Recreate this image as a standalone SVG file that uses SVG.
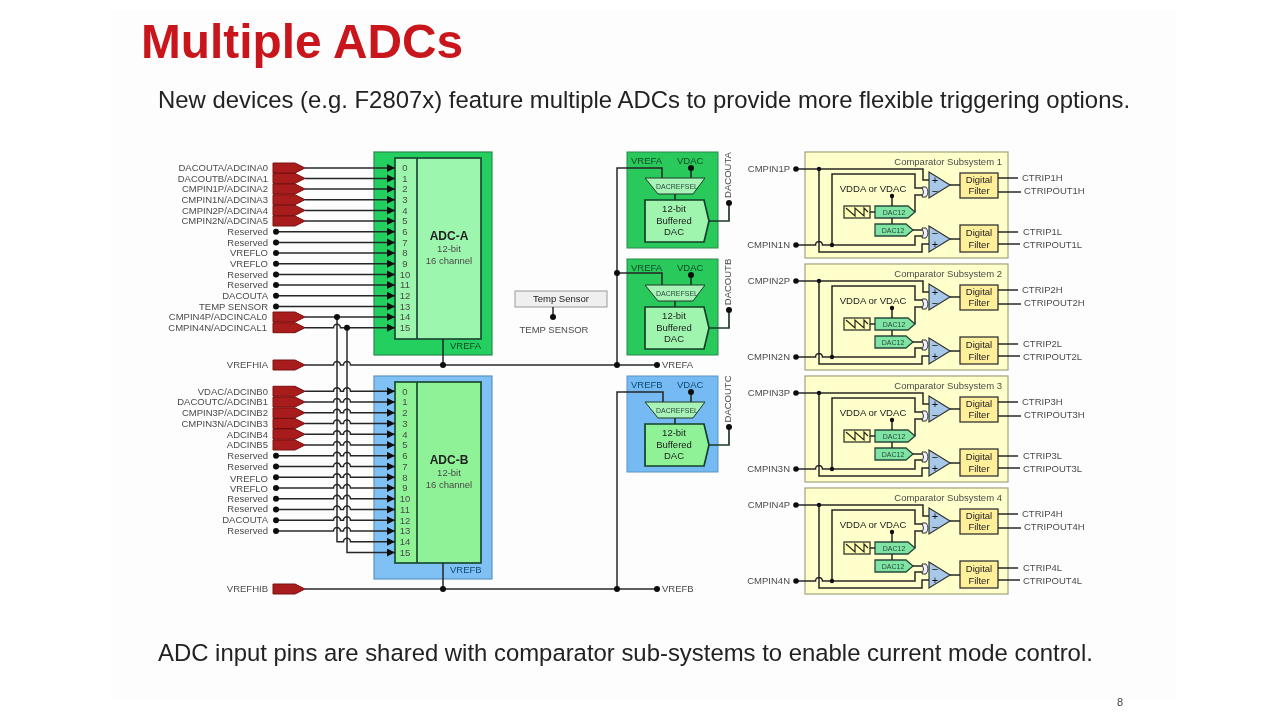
<svg xmlns="http://www.w3.org/2000/svg" xmlns:xlink="http://www.w3.org/1999/xlink" width="1280" height="720" viewBox="0 0 1280 720">
<defs>
<style>
text{font-family:"Liberation Sans",Arial,sans-serif;fill:#4a4a4a;font-size:9.5px}
.r{text-anchor:end}.m{text-anchor:middle}
.k{fill:#222}
.w{fill:none;stroke:#262626;stroke-width:1.5}
.w2{fill:none;stroke:#1d3a2a;stroke-width:1.7}
.d{fill:#111}
.pin{fill:#a81c1c;stroke:#7a1010;stroke-width:1}
.in{stroke:#1b4a33;stroke-width:1.7}
.dacb{stroke:#12402a;stroke-width:1.7}
.cb{fill:#ffffcc;stroke:#a3a37c;stroke-width:1.2}
.df{fill:#ffee9a;stroke:#333;stroke-width:1.3}
.amp{fill:#a8c8e8;stroke:#333;stroke-width:1.2}
.dac12{fill:#7fe3a4;stroke:#2a4a3a;stroke-width:1.3}
.head{font-size:23.9px;fill:#222}
.s{font-size:11px;fill:#111;text-anchor:middle}
.lg{fill:#0d4a28}.lb{fill:#0f4a70}
.sm{font-size:7px;text-anchor:middle;fill:#2a4a3a}
.vd{font-size:9.6px;fill:#222;text-anchor:middle}
</style>
<marker id="arr" markerUnits="userSpaceOnUse" markerWidth="9" markerHeight="9" refX="8" refY="4" orient="auto"><path d="M0 0L8 4L0 8Z" fill="#111"/></marker>
<filter id="soft" filterUnits="userSpaceOnUse" x="0" y="0" width="1280" height="720"><feGaussianBlur stdDeviation="0.4"/></filter>
<path id="p" class="pin" d="M273 -5H295L305 0L295 5H273Z"/>
<g id="dacblk">
<path d="M645 178H705L693 194H658Z" fill="#a9f2b8" stroke="#1d3a2a" stroke-width="1"/>
<path d="M645 200H704L709 221L704 242H645Z" class="dacb"/>
</g>
<g id="dacw">
<path class="w2" d="M691 168V178M675 194V200M709 221H729V203"/>
<circle class="d" cx="691" cy="168" r="3"/><circle class="d" cx="729" cy="203" r="3"/>
</g>
<g id="cmpbody">
<rect class="cb" x="805" y="152" width="203" height="106"/>
<path class="amp" d="M929 172L950 185L929 198Z"/>
<path class="amp" d="M929 226L950 239L929 252Z"/>
<path fill="#eef" stroke="#333" d="M922 187H926Q930 192 926 197H922Q925 192 922 187Z"/>
<path fill="#eef" stroke="#333" d="M922 228H926Q930 233 926 238H922Q925 233 922 228Z"/>
<rect class="df" x="960" y="173" width="38" height="25"/>
<rect class="df" x="960" y="225" width="38" height="27"/>
<rect x="844" y="206" width="26" height="12" fill="#ffffb0" stroke="#333" stroke-width="1.3"/>
<path d="M846 208L855 216V208L864 216V208L868 212" fill="none" stroke="#222" stroke-width="1.2"/>
<path class="dac12" d="M875 206H908L915 212L908 218H875Z"/>
<path class="dac12" d="M875 224H906L913 230L906 236H875Z"/>
</g>
<g id="cmpw">
<path class="w" d="M796 169H923V180H929M819 169V252H922V244H929M796 245H815.500a3.500 3.500 0 0 1 7 0H915V236H922M832 245V174H915V188H922M915 212V195H922M913 230H922M892 196V206M892 218V224M870 212H875M950 185H960M950 239H960M998 178H1018M998 192H1021M998 232H1018M998 244H1020"/>
<circle class="d" cx="796" cy="169" r="2.800"/><circle class="d" cx="796" cy="245" r="2.800"/><circle class="d" cx="819" cy="169" r="2.200"/><circle class="d" cx="832" cy="245" r="2.200"/><circle class="d" cx="892" cy="196" r="2.200"/>
</g>
</defs>
<rect width="1280" height="720" fill="#ffffff"/>
<rect x="110" y="10" width="1066" height="690" fill="#fdfdfd"/>
<g id="slide-text" filter="url(#soft)">
<text id="title" x="141" y="58" style="font-size:47.8px;font-weight:bold;fill:#c8181c">Multiple ADCs</text>
<text class="head" x="158" y="108">New devices (e.g. F2807x) feature multiple ADCs to provide more flexible triggering options.</text>
<text class="head" x="158" y="661">ADC input pins are shared with comparator sub-systems to enable current mode control.</text>
<text x="1120" y="706" class="m" style="font-size:11px;fill:#444">8</text>
</g>
<g id="diagram" filter="url(#soft)">
<g id="adc-a">
<rect x="374" y="152" width="118" height="203" fill="#22cf5f" stroke="#2a8a4c" stroke-width="1.2"/>
<rect class="in" x="395" y="158" width="86" height="181" fill="#9cf6ad"/>
<path class="in" d="M417 158V339"/>
<text class="m k" x="449" y="240" style="font-size:12px;font-weight:bold">ADC-A</text>
<text class="m" x="449" y="252">12-bit</text>
<text class="m" x="449" y="264">16 channel</text>
<text class="lg" x="450" y="349">VREFA</text>
<text class="m" x="405" y="171">0</text><text class="m" x="405" y="182">1</text><text class="m" x="405" y="192">2</text><text class="m" x="405" y="203">3</text><text class="m" x="405" y="214">4</text><text class="m" x="405" y="224">5</text><text class="m" x="405" y="235">6</text><text class="m" x="405" y="246">7</text><text class="m" x="405" y="256">8</text><text class="m" x="405" y="267">9</text><text class="m" x="405" y="278">10</text><text class="m" x="405" y="288">11</text><text class="m" x="405" y="299">12</text><text class="m" x="405" y="310">13</text><text class="m" x="405" y="320">14</text><text class="m" x="405" y="331">15</text>
</g>
<g id="adc-b">
<rect x="374" y="376" width="118" height="203" fill="#7fc0f5" stroke="#5d94c0" stroke-width="1.2"/>
<rect class="in" x="395" y="382" width="86" height="181" fill="#8ff296"/>
<path class="in" d="M417 382V563"/>
<text class="m k" x="449" y="464" style="font-size:12px;font-weight:bold">ADC-B</text>
<text class="m" x="449" y="476">12-bit</text>
<text class="m" x="449" y="488">16 channel</text>
<text class="lb" x="450" y="573">VREFB</text>
<text class="m" x="405" y="395">0</text><text class="m" x="405" y="405">1</text><text class="m" x="405" y="416">2</text><text class="m" x="405" y="427">3</text><text class="m" x="405" y="438">4</text><text class="m" x="405" y="448">5</text><text class="m" x="405" y="459">6</text><text class="m" x="405" y="470">7</text><text class="m" x="405" y="481">8</text><text class="m" x="405" y="491">9</text><text class="m" x="405" y="502">10</text><text class="m" x="405" y="513">11</text><text class="m" x="405" y="524">12</text><text class="m" x="405" y="534">13</text><text class="m" x="405" y="545">14</text><text class="m" x="405" y="556">15</text>
</g>
<g id="pins-a">
<use href="#p" y="168"/><use href="#p" y="178.400"/><use href="#p" y="189"/><use href="#p" y="199.700"/><use href="#p" y="210.400"/><use href="#p" y="221"/><use href="#p" y="317"/><use href="#p" y="327.700"/><use href="#p" y="365"/>
<text class="r" x="268" y="171.300">DACOUTA/ADCINA0</text><text class="r" x="268" y="181.700">DACOUTB/ADCINA1</text><text class="r" x="268" y="192.300">CMPIN1P/ADCINA2</text><text class="r" x="268" y="203">CMPIN1N/ADCINA3</text><text class="r" x="268" y="213.700">CMPIN2P/ADCINA4</text><text class="r" x="268" y="224.300">CMPIN2N/ADCINA5</text>
<text class="r" x="268" y="235">Reserved</text><text class="r" x="268" y="245.700">Reserved</text><text class="r" x="268" y="256.300">VREFLO</text><text class="r" x="268" y="267">VREFLO</text><text class="r" x="268" y="277.700">Reserved</text><text class="r" x="268" y="288.300">Reserved</text><text class="r" x="268" y="299">DACOUTA</text><text class="r" x="268" y="309.700">TEMP SENSOR</text><text class="r" x="267" y="320.300">CMPIN4P/ADCINCAL0</text><text class="r" x="267" y="331">CMPIN4N/ADCINCAL1</text><text class="r" x="268" y="368.300">VREFHIA</text>
</g>
<g id="pins-b">
<use href="#p" y="391.300"/><use href="#p" y="402"/><use href="#p" y="412.800"/><use href="#p" y="423.500"/><use href="#p" y="434.300"/><use href="#p" y="445"/><use href="#p" y="589"/>
<text class="r" x="268" y="394.600">VDAC/ADCINB0</text><text class="r" x="268" y="405.300">DACOUTC/ADCINB1</text><text class="r" x="268" y="416.100">CMPIN3P/ADCINB2</text><text class="r" x="268" y="426.800">CMPIN3N/ADCINB3</text><text class="r" x="268" y="437.600">ADCINB4</text><text class="r" x="268" y="448.300">ADCINB5</text>
<text class="r" x="268" y="459.100">Reserved</text><text class="r" x="268" y="469.800">Reserved</text><text class="r" x="268" y="481.600">VREFLO</text><text class="r" x="268" y="492.300">VREFLO</text><text class="r" x="268" y="501.600">Reserved</text><text class="r" x="268" y="512.300">Reserved</text><text class="r" x="268" y="523.100">DACOUTA</text><text class="r" x="268" y="533.800">Reserved</text><text class="r" x="268" y="592.300">VREFHIB</text>
</g>
<g id="temp-sensor">
<rect x="515" y="291" width="92" height="16" fill="#efefef" stroke="#999"/>
<text class="m k" x="561" y="301.500">Temp Sensor</text>
<text class="m" x="554" y="333">TEMP SENSOR</text>
</g>
<g id="dac-a">
<rect x="627" y="152" width="91" height="96" fill="#2ac95c" stroke="#2a8a4c"/>
<use href="#dacblk" fill="#9ff5ae"/>
<text class="lg" x="631" y="164">VREFA</text><text class="lg" x="677" y="164">VDAC</text>
<text class="sm" x="677" y="189">DACREFSEL</text>
<text class="m k" x="674" y="212">12-bit</text><text class="m k" x="674" y="224">Buffered</text><text class="m k" x="674" y="235">DAC</text>
<text class="m" transform="translate(731 175) rotate(-90)">DACOUTA</text>
</g>
<g id="dac-b" transform="translate(0 107)">
<rect x="627" y="152" width="91" height="96" fill="#2ac95c" stroke="#2a8a4c"/>
<use href="#dacblk" fill="#9ff5ae"/>
<text class="lg" x="631" y="164">VREFA</text><text class="lg" x="677" y="164">VDAC</text>
<text class="sm" x="677" y="189">DACREFSEL</text>
<text class="m k" x="674" y="212">12-bit</text><text class="m k" x="674" y="224">Buffered</text><text class="m k" x="674" y="235">DAC</text>
<text class="m" transform="translate(731 175) rotate(-90)">DACOUTB</text>
</g>
<g id="dac-c" transform="translate(0 224)">
<rect x="627" y="152" width="91" height="96" fill="#74baf3" stroke="#5d94c0"/>
<use href="#dacblk" fill="#8ff296"/>
<text class="lb" x="631" y="164">VREFB</text><text class="lb" x="677" y="164">VDAC</text>
<text class="sm" x="677" y="189">DACREFSEL</text>
<text class="m k" x="674" y="212">12-bit</text><text class="m k" x="674" y="224">Buffered</text><text class="m k" x="674" y="235">DAC</text>
<text class="m" transform="translate(731 175) rotate(-90)">DACOUTC</text>
</g>
<g id="cmp-1">
<use href="#cmpbody"/>
<text class="r" x="1002" y="165">Comparator Subsystem 1</text><text class="vd" x="873" y="192">VDDA or VDAC</text><text class="sm" x="894" y="215">DAC12</text><text class="sm" x="893" y="233">DAC12</text><text class="m k" x="979" y="183">Digital</text><text class="m k" x="979" y="194">Filter</text><text class="m k" x="979" y="236">Digital</text><text class="m k" x="979" y="248">Filter</text>
<text class="s" x="935" y="183.600">+</text><text class="s" x="935" y="194.600">−</text><text class="s" x="935" y="236.600">−</text><text class="s" x="935" y="247.600">+</text>
<text class="r" x="790" y="172">CMPIN1P</text><text class="r" x="790" y="248">CMPIN1N</text><text x="1022" y="181">CTRIP1H</text><text x="1024" y="194">CTRIPOUT1H</text><text x="1023" y="235">CTRIP1L</text><text x="1023" y="248">CTRIPOUT1L</text>
</g>
<g id="cmp-2" transform="translate(0 112)">
<use href="#cmpbody"/>
<text class="r" x="1002" y="165">Comparator Subsystem 2</text><text class="vd" x="873" y="192">VDDA or VDAC</text><text class="sm" x="894" y="215">DAC12</text><text class="sm" x="893" y="233">DAC12</text><text class="m k" x="979" y="183">Digital</text><text class="m k" x="979" y="194">Filter</text><text class="m k" x="979" y="236">Digital</text><text class="m k" x="979" y="248">Filter</text>
<text class="s" x="935" y="183.600">+</text><text class="s" x="935" y="194.600">−</text><text class="s" x="935" y="236.600">−</text><text class="s" x="935" y="247.600">+</text>
<text class="r" x="790" y="172">CMPIN2P</text><text class="r" x="790" y="248">CMPIN2N</text><text x="1022" y="181">CTRIP2H</text><text x="1024" y="194">CTRIPOUT2H</text><text x="1023" y="235">CTRIP2L</text><text x="1023" y="248">CTRIPOUT2L</text>
</g>
<g id="cmp-3" transform="translate(0 224)">
<use href="#cmpbody"/>
<text class="r" x="1002" y="165">Comparator Subsystem 3</text><text class="vd" x="873" y="192">VDDA or VDAC</text><text class="sm" x="894" y="215">DAC12</text><text class="sm" x="893" y="233">DAC12</text><text class="m k" x="979" y="183">Digital</text><text class="m k" x="979" y="194">Filter</text><text class="m k" x="979" y="236">Digital</text><text class="m k" x="979" y="248">Filter</text>
<text class="s" x="935" y="183.600">+</text><text class="s" x="935" y="194.600">−</text><text class="s" x="935" y="236.600">−</text><text class="s" x="935" y="247.600">+</text>
<text class="r" x="790" y="172">CMPIN3P</text><text class="r" x="790" y="248">CMPIN3N</text><text x="1022" y="181">CTRIP3H</text><text x="1024" y="194">CTRIPOUT3H</text><text x="1023" y="235">CTRIP3L</text><text x="1023" y="248">CTRIPOUT3L</text>
</g>
<g id="cmp-4" transform="translate(0 336)">
<use href="#cmpbody"/>
<text class="r" x="1002" y="165">Comparator Subsystem 4</text><text class="vd" x="873" y="192">VDDA or VDAC</text><text class="sm" x="894" y="215">DAC12</text><text class="sm" x="893" y="233">DAC12</text><text class="m k" x="979" y="183">Digital</text><text class="m k" x="979" y="194">Filter</text><text class="m k" x="979" y="236">Digital</text><text class="m k" x="979" y="248">Filter</text>
<text class="s" x="935" y="183.600">+</text><text class="s" x="935" y="194.600">−</text><text class="s" x="935" y="236.600">−</text><text class="s" x="935" y="247.600">+</text>
<text class="r" x="790" y="172">CMPIN4P</text><text class="r" x="790" y="248">CMPIN4N</text><text x="1022" y="181">CTRIP4H</text><text x="1024" y="194">CTRIPOUT4H</text><text x="1023" y="235">CTRIP4L</text><text x="1023" y="248">CTRIPOUT4L</text>
</g>
<text id="vrefa-out" x="662" y="368.300">VREFA</text>
<text id="vrefb-out" x="662" y="592.300">VREFB</text>
<g id="connectors">
<g class="w">
<path d="M305 168H395" marker-end="url(#arr)"/><path d="M305 178.400H395" marker-end="url(#arr)"/><path d="M305 189H395" marker-end="url(#arr)"/><path d="M305 199.700H395" marker-end="url(#arr)"/><path d="M305 210.400H395" marker-end="url(#arr)"/><path d="M305 221H395" marker-end="url(#arr)"/><path d="M276 231.700H395" marker-end="url(#arr)"/><path d="M276 242.400H395" marker-end="url(#arr)"/><path d="M276 253H395" marker-end="url(#arr)"/><path d="M276 263.700H395" marker-end="url(#arr)"/><path d="M276 274.400H395" marker-end="url(#arr)"/><path d="M276 285H395" marker-end="url(#arr)"/><path d="M276 295.700H395" marker-end="url(#arr)"/><path d="M276 306.400H395" marker-end="url(#arr)"/><path d="M305 317H395" marker-end="url(#arr)"/><path d="M305 327.700H333.500a3.500 3.500 0 0 1 7 0H395" marker-end="url(#arr)"/>
<path d="M305 391.300H333.500a3.500 3.500 0 0 1 7 0H343.500a3.500 3.500 0 0 1 7 0H395" marker-end="url(#arr)"/><path d="M305 402H333.500a3.500 3.500 0 0 1 7 0H343.500a3.500 3.500 0 0 1 7 0H395" marker-end="url(#arr)"/><path d="M305 412.800H333.500a3.500 3.500 0 0 1 7 0H343.500a3.500 3.500 0 0 1 7 0H395" marker-end="url(#arr)"/><path d="M305 423.500H333.500a3.500 3.500 0 0 1 7 0H343.500a3.500 3.500 0 0 1 7 0H395" marker-end="url(#arr)"/><path d="M305 434.300H333.500a3.500 3.500 0 0 1 7 0H343.500a3.500 3.500 0 0 1 7 0H395" marker-end="url(#arr)"/><path d="M305 445H333.500a3.500 3.500 0 0 1 7 0H343.500a3.500 3.500 0 0 1 7 0H395" marker-end="url(#arr)"/><path d="M276 455.800H333.500a3.500 3.500 0 0 1 7 0H343.500a3.500 3.500 0 0 1 7 0H395" marker-end="url(#arr)"/><path d="M276 466.500H333.500a3.500 3.500 0 0 1 7 0H343.500a3.500 3.500 0 0 1 7 0H395" marker-end="url(#arr)"/><path d="M276 477.300H333.500a3.500 3.500 0 0 1 7 0H343.500a3.500 3.500 0 0 1 7 0H395" marker-end="url(#arr)"/><path d="M276 488H333.500a3.500 3.500 0 0 1 7 0H343.500a3.500 3.500 0 0 1 7 0H395" marker-end="url(#arr)"/><path d="M276 498.800H333.500a3.500 3.500 0 0 1 7 0H343.500a3.500 3.500 0 0 1 7 0H395" marker-end="url(#arr)"/><path d="M276 509.500H333.500a3.500 3.500 0 0 1 7 0H343.500a3.500 3.500 0 0 1 7 0H395" marker-end="url(#arr)"/><path d="M276 520.300H333.500a3.500 3.500 0 0 1 7 0H343.500a3.500 3.500 0 0 1 7 0H395" marker-end="url(#arr)"/><path d="M276 531H333.500a3.500 3.500 0 0 1 7 0H343.500a3.500 3.500 0 0 1 7 0H395" marker-end="url(#arr)"/><path d="M337 317V541.800H343.500a3.500 3.500 0 0 1 7 0H395" marker-end="url(#arr)"/><path d="M347 327.700V552.500H395" marker-end="url(#arr)"/>
</g>
<path class="w" d="M305 365H333.500a3.500 3.500 0 0 1 7 0H343.500a3.500 3.500 0 0 1 7 0H657M443 339V365M617 365V168H662V178M617 273H662V285"/>
<path class="w" d="M305 589H657M443 563V589M617 589V392H663V402M553 307V317"/>
<use href="#dacw"/><use href="#dacw" y="107"/><use href="#dacw" y="224"/>
<use href="#cmpw"/><use href="#cmpw" y="112"/><use href="#cmpw" y="224"/><use href="#cmpw" y="336"/>
<g class="d">
<circle cx="276" cy="231.700" r="3"/><circle cx="276" cy="242.400" r="3"/><circle cx="276" cy="253" r="3"/><circle cx="276" cy="263.700" r="3"/><circle cx="276" cy="274.400" r="3"/><circle cx="276" cy="285" r="3"/><circle cx="276" cy="295.700" r="3"/><circle cx="276" cy="306.400" r="3"/>
<circle cx="276" cy="455.800" r="3"/><circle cx="276" cy="466.500" r="3"/><circle cx="276" cy="477.300" r="3"/><circle cx="276" cy="488" r="3"/><circle cx="276" cy="498.800" r="3"/><circle cx="276" cy="509.500" r="3"/><circle cx="276" cy="520.300" r="3"/><circle cx="276" cy="531" r="3"/>
<circle cx="337" cy="317" r="3"/><circle cx="347" cy="327.700" r="3"/><circle cx="443" cy="365" r="3"/><circle cx="617" cy="365" r="3"/><circle cx="657" cy="365" r="3"/><circle cx="617" cy="273" r="3"/><circle cx="443" cy="589" r="3"/><circle cx="617" cy="589" r="3"/><circle cx="657" cy="589" r="3"/><circle cx="553" cy="317" r="3"/>
</g>
</g>
</g>
</svg>
